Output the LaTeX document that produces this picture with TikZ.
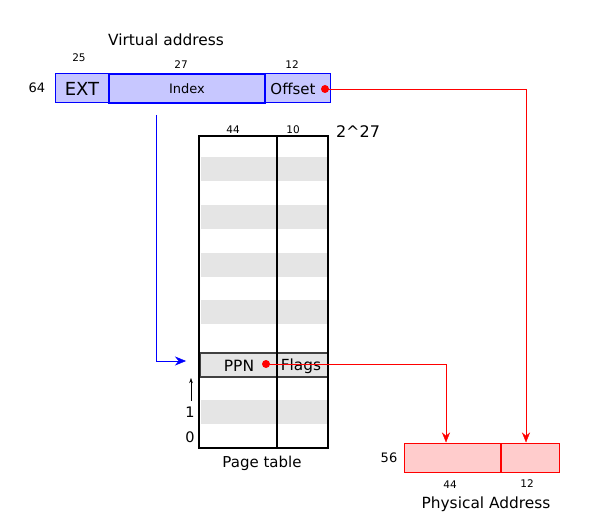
\documentclass[tikz,border=0pt]{standalone}
\usepackage{fontspec}
\setmainfont{DejaVu Sans}
\usetikzlibrary{calc}
\usetikzlibrary{positioning}
\usetikzlibrary{arrows.meta}
\newcommand{\fs}[1]{\fontsize{#1}{#1}\selectfont}
\tikzset{
  vcell/.style={draw=blue,fill=blue!22,line width=1pt,minimum height=29,inner sep=0pt},
  pcell/.style={draw=red,fill=red!20,line width=1pt,minimum height=29,inner sep=0pt},
  bits/.style={font=\fs{10.5},inner sep=1pt},
  stripe/.style={fill=black!10},
}

\begin{document}
\begin{tikzpicture}[x=1pt,y=-1pt]
  \useasboundingbox (0,0) rectangle (613,529);

  % Virtual address {{{
  \node[font=\fs{15.4}] (vtitle) at (166,40) {Virtual address};
  \node[vcell,minimum width=54,font=\fs{18}] (ext) at (82,88.5) {EXT};
  \node[vcell,minimum width=156,line width=2pt,font=\fs{13}] (index) at (187,88.5) {Index};
  \node[vcell,minimum width=65] (offcell) at (297.5,88.5) {};
  \node[font=\fs{15},inner sep=0pt] (offtxt) at (293,88.5) {Offset};
  \node[bits,font=\fs{13}] (vlen) at (37,88) {64};
  \node[bits] (extbits) at (79,58) {25};
  \node[bits] (idxbits) at (181,65) {27};
  \node[bits] (offbits) at (292,65) {12};
  \fill[red] (325,89) circle[radius=4] coordinate (offdot);
  % }}}

  % Page table {{{
  \foreach \y in {169,217,265,312,412}
    \fill[stripe] (201,\y-12) rectangle (327,\y+12);
  \node[draw=black!75,line width=1.3pt,fill=black!10,minimum width=128,minimum height=24,inner sep=0pt] (ppnrow) at (264,365) {};
  \node[draw,line width=1.6pt,minimum width=129,minimum height=312,inner sep=0pt] (ptable) at (263.5,292) {};
  \draw[line width=1.6pt] (ptable.north -| 277,0) -- (ptable.south -| 277,0);
  \node[font=\fs{15.5},inner sep=0pt] (ppntxt) at (239,366) {PPN};
  \node[font=\fs{15.3},inner sep=0pt] (flagtxt) at (301,366) {Flags};
  \fill[red] (266,364) circle[radius=4] coordinate (ppndot);
  \node[bits] (ppnbits) at (233,130) {44};
  \node[bits] (flagbits) at (293,130) {10};
  \node[font=\fs{16}] (ptsize) at (358,132) {2\^{}27};
  \node[font=\fs{14.5}] (row1) at (190,412) {1};
  \node[font=\fs{14.5}] (row0) at (190,437) {0};
  \node[font=\fs{15}] (pttitle) at (262,463) {Page table};
  \coordinate (upfoot) at (191,401);
  \coordinate (uptip) at (191,378);
  \draw[-{Stealth[length=5pt,width=3.5pt]}] (upfoot) -- (uptip);
  % }}}

  % Physical address {{{
  \node[pcell,minimum width=96] (pappn) at (452,457.5) {};
  \node[pcell,minimum width=58,right=0pt of pappn] (paoff) {};
  \node[bits,font=\fs{13}] (plen) at (389,458) {56};
  \node[bits] (pappnbits) at (450,485) {44};
  \node[bits] (paoffbits) at (527,484) {12};
  \node[font=\fs{15.4}] (patitle) at (486,504) {Physical Address};
  % }}}

  % Connectors {{{
  \coordinate (idxfoot) at (156,115);
  \coordinate (idxtip) at (186,361);
  \draw[blue,-{Stealth[length=11pt,width=9pt]}] (idxfoot) |- (idxtip);
  \draw[red,-{Stealth[length=10pt,width=8pt]}] (offdot) -| (paoff.north -| 526,0);
  \draw[red,-{Stealth[length=10pt,width=8pt]}] (ppndot) -| (pappn.north -| 446,0);
  % }}}
\end{tikzpicture}
\end{document}
